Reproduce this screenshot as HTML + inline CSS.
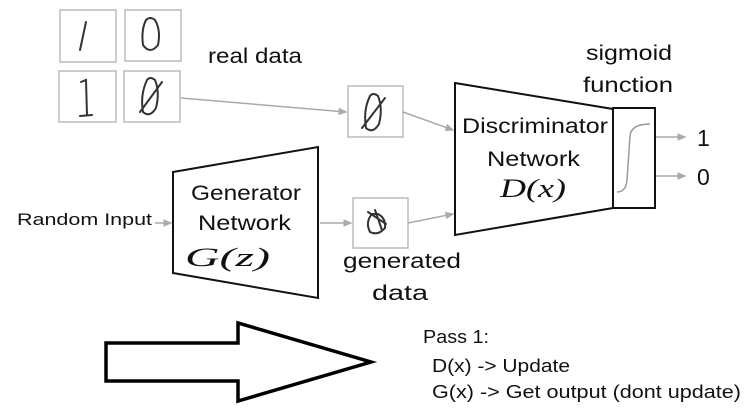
<!DOCTYPE html>
<html><head><style>
body{margin:0;background:#fff;}
svg{display:block}
text{font-family:"Liberation Sans",sans-serif;fill:#111}
</style></head><body>
<svg width="750" height="419" viewBox="0 0 750 419" xmlns="http://www.w3.org/2000/svg">
<defs><marker id="a" markerWidth="6" markerHeight="6" refX="5" refY="3" orient="auto"><path d="M0,0.5 L6,3 L0,5.5z" fill="#aaa"/></marker></defs>
<g fill="none" stroke="#bbb" stroke-width="1.5">
<rect x="60" y="10" width="56" height="52"/><rect x="125" y="10" width="56" height="51"/>
<rect x="59" y="71" width="57" height="51"/><rect x="124" y="71" width="56" height="51"/>
<rect x="348" y="86" width="55" height="51"/><rect x="353" y="198" width="55" height="50"/>
</g>
<g fill="none" stroke="#333" stroke-width="2" stroke-linecap="round">
<path d="M86,22 L80,50"/><path d="M146,20 Q141,30 143,45 Q150,55 158,45 Q161,30 155,20 Q150,16 146,20z"/>
<path d="M81,82 L86,80 L87,115 M80,116 L92,115"/>
<path d="M147,80 Q140,95 143,112 Q150,118 156,108 Q160,92 155,80 Q150,76 147,80 M140,112 L162,82"/>
<path d="M370,96 Q363,110 366,128 Q373,134 379,124 Q383,108 378,96 Q373,92 370,96 M362,128 L385,98"/>
<path d="M372,214 Q365,222 370,232 Q378,236 385,228 Q386,218 378,214z M368,212 L386,224 M375,210 L382,230"/>
</g>
<g stroke="#aaa" stroke-width="1.5" fill="none" marker-end="url(#a)">
<line x1="181" y1="98" x2="346" y2="112"/>
<line x1="155" y1="223" x2="171" y2="223"/>
<line x1="320" y1="223" x2="351" y2="223"/>
<line x1="403" y1="112" x2="453" y2="130"/>
<line x1="408" y1="223" x2="453" y2="214"/>
<line x1="655" y1="137" x2="685" y2="137"/>
<line x1="655" y1="176" x2="685" y2="176"/>
</g>
<path d="M617,192 Q626,192 627,180 L630,136 Q631,124 650,124" fill="none" stroke="#999" stroke-width="1.5"/>
<g fill="none" stroke="#111" stroke-width="2">
<polygon points="173,172 318,147 318,298 173,273"/>
<polygon points="455,83 613,109 613,208 455,235"/>
<rect x="613" y="108" width="42" height="100"/>
</g>
<polygon points="106,343 238,343 238,323 371,362 238,401 238,381 106,381" fill="#fff" stroke="#000" stroke-width="3.5"/>
<g font-size="21">
<text x="208" y="63" textLength="94" lengthAdjust="spacingAndGlyphs">real data</text>
<text x="586" y="60" textLength="86" lengthAdjust="spacingAndGlyphs">sigmoid</text>
<text x="583" y="92" textLength="90" lengthAdjust="spacingAndGlyphs">function</text>
<text x="191" y="200" textLength="110" lengthAdjust="spacingAndGlyphs">Generator</text>
<text x="198" y="230" textLength="93" lengthAdjust="spacingAndGlyphs">Network</text>
<text x="462" y="133" textLength="146" lengthAdjust="spacingAndGlyphs">Discriminator</text>
<text x="487" y="166" textLength="93" lengthAdjust="spacingAndGlyphs">Network</text>
<text x="343" y="268" textLength="118" lengthAdjust="spacingAndGlyphs">generated</text>
<text x="372" y="300" textLength="56" lengthAdjust="spacingAndGlyphs">data</text>
<text x="697" y="146" font-size="23">1</text>
<text x="697" y="185" font-size="23">0</text>
</g>
<text x="17" y="225" font-size="17" textLength="135" lengthAdjust="spacingAndGlyphs">Random Input</text>
<text x="185" y="266" font-size="26" textLength="85" lengthAdjust="spacingAndGlyphs" style="font-family:'Liberation Serif',serif;font-style:italic">G(z)</text>
<text x="500" y="197" font-size="26" textLength="66" lengthAdjust="spacingAndGlyphs" style="font-family:'Liberation Serif',serif;font-style:italic">D(x)</text>
<g font-size="18">
<text x="423" y="343" textLength="66" lengthAdjust="spacingAndGlyphs">Pass 1:</text>
<text x="432" y="372" textLength="138" lengthAdjust="spacingAndGlyphs">D(x) -&gt; Update</text>
<text x="432" y="398" textLength="309" lengthAdjust="spacingAndGlyphs">G(x) -&gt; Get output (dont update)</text>
</g>
</svg>
</body></html>
